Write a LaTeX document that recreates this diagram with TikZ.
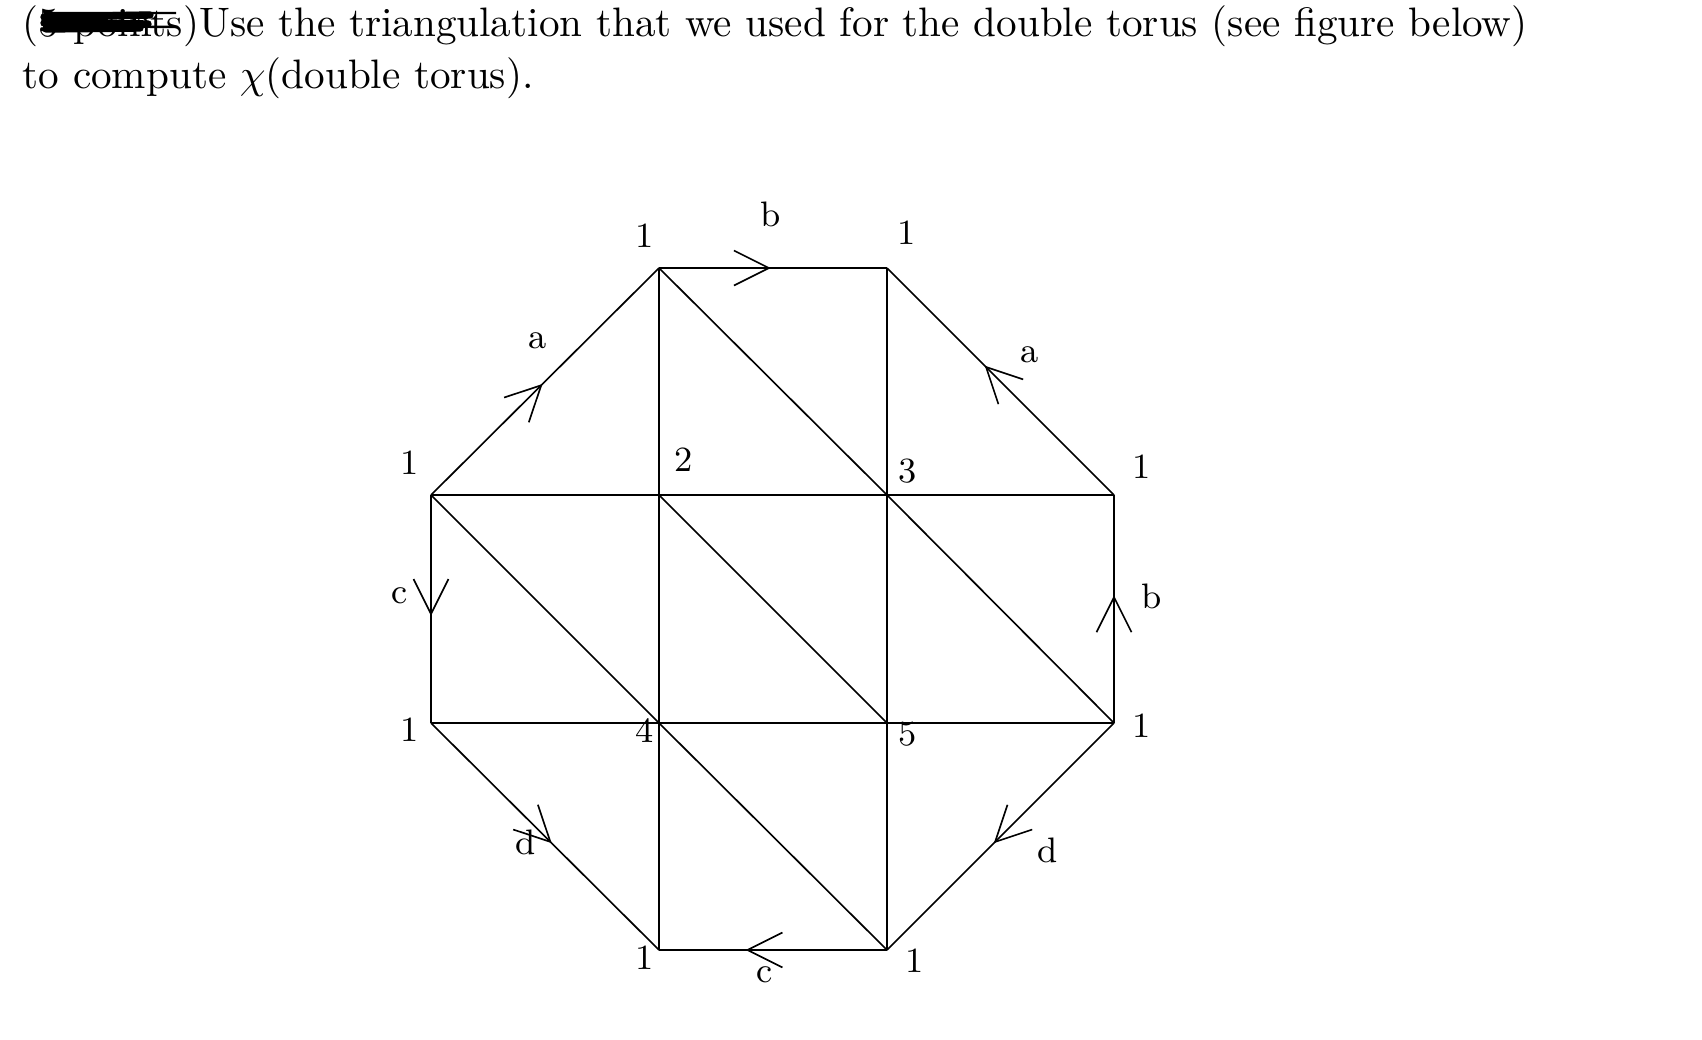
\documentclass[tikz,border=0pt]{standalone}
\usepackage{tikz}
\usetikzlibrary{arrows.meta, decorations.markings}

\begin{document}
\begin{tikzpicture}[x=0.243pt, y=-0.243pt,
    side/.style={line width=0.4pt},
    midarrow/.style={postaction={decorate,decoration={markings,
        mark=at position #1 with {\arrow{Straight Barb[length=8.5pt,width=8.5pt]}}}}},
    vlabel/.style={inner sep=0pt,font=\fontsize{8.6}{10}\selectfont},
    question/.style={anchor=base west,inner sep=0pt,font=\fontsize{10}{12}\selectfont},
    scribble/.style={line width=1.8pt,line cap=round,black}
]
    \useasboundingbox (0,0) rectangle (1702,1039);

    % Question text
    \node[question] (line1) at (22,37) {(5 points)Use the triangulation that we used for the double torus (see figure below)};
    \node[question] (line2) at (22,88) {to compute $\chi$(double torus).};
    \draw[scribble] (44,17) -- (150,15) (44,23) -- (148,24) (46,29) -- (140,28);
    \draw[black,line width=0.6pt] (44,13) -- (176,13) (60,26) -- (178,27);

    % Octagon corners (all identified to 1)
    \coordinate (p1) at (659,268);
    \coordinate (p2) at (887,268);
    \coordinate (p3) at (1114,495);
    \coordinate (p4) at (1114,723);
    \coordinate (p5) at (887,950);
    \coordinate (p6) at (659,950);
    \coordinate (p7) at (431,723);
    \coordinate (p8) at (431,495);
    % Inner vertices
    \coordinate (v2) at (659,495);
    \coordinate (v3) at (887,495);
    \coordinate (v4) at (659,723);
    \coordinate (v5) at (887,723);

    % Boundary word
    \draw[side,midarrow=0.49] (p8) -- (p1);
    \draw[side,midarrow=0.49] (p1) -- (p2);
    \draw[side,midarrow=0.57] (p3) -- (p2);
    \draw[side,midarrow=0.56] (p4) -- (p3);
    \draw[side,midarrow=0.53] (p8) -- (p7);
    \draw[side,midarrow=0.62] (p5) -- (p6);
    \draw[side,midarrow=0.53] (p7) -- (p6);
    \draw[side,midarrow=0.53] (p4) -- (p5);

    % Triangulation
    \draw[side] (p1) -- (v2) -- (v4) -- (p6);
    \draw[side] (p2) -- (v3) -- (v5) -- (p5);
    \draw[side] (p8) -- (v2) -- (v3) -- (p3);
    \draw[side] (p7) -- (v4) -- (v5) -- (p4);
    \draw[side] (p1) -- (v3) -- (p4);
    \draw[side] (v2) -- (v5);
    \draw[side] (p8) -- (v4) -- (p5);

    % Vertex labels
    \node[vlabel] (l1) at (645,236) {1};
    \node[vlabel] (l2) at (907,233) {1};
    \node[vlabel] (l3) at (1142,467) {1};
    \node[vlabel] (l4) at (1142,726) {1};
    \node[vlabel] (l5) at (915,961) {1};
    \node[vlabel] (l6) at (645,958) {1};
    \node[vlabel] (l7) at (410,730) {1};
    \node[vlabel] (l8) at (410,463) {1};
    \node[vlabel] (lv2) at (684,460) {2};
    \node[vlabel] (lv3) at (908,471) {3};
    \node[vlabel] (lv4) at (645,731) {4};
    \node[vlabel] (lv5) at (908,734) {5};

    % Edge labels
    \node[vlabel] (ea1) at (538,341) {a};
    \node[vlabel] (eb1) at (771,214) {b};
    \node[vlabel] (ea2) at (1030,355) {a};
    \node[vlabel] (eb2) at (1152,596) {b};
    \node[vlabel] (ec1) at (400,596) {c};
    \node[vlabel] (ec2) at (765,975) {c};
    \node[vlabel] (ed1) at (526,842) {d};
    \node[vlabel] (ed2) at (1048,850) {d};
\end{tikzpicture}
\end{document}
